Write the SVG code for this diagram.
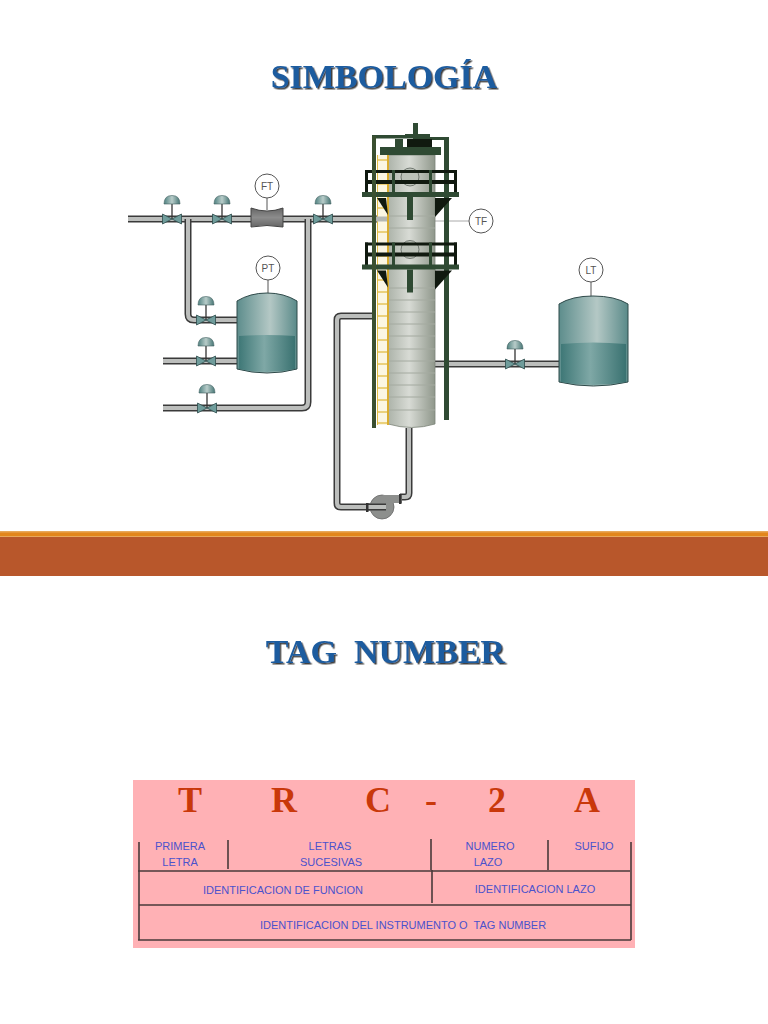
<svg xmlns="http://www.w3.org/2000/svg" xmlns:xlink="http://www.w3.org/1999/xlink" width="768" height="1024" viewBox="0 0 768 1024">
<style>
.title{font-family:"Liberation Serif","Times New Roman",serif;font-weight:bold;font-size:34px;fill:#1f5c9f;text-anchor:middle;filter:url(#sh);white-space:pre}
.big{font-family:"Liberation Serif",serif;font-weight:bold;font-size:36px;fill:#c9380a;text-anchor:middle}
.lab{font-family:"Liberation Sans",Arial,sans-serif;font-size:11px;fill:#4b52cc;text-anchor:middle;white-space:pre}
.ins{font-family:"Liberation Sans",Arial,sans-serif;font-size:10px;fill:#555;text-anchor:middle}
.po{fill:none;stroke:#3a3a3a;stroke-width:7;stroke-linejoin:round}
.pi{fill:none;stroke:#bcbebc;stroke-width:4;stroke-linejoin:round}
.tl{fill:none;stroke:#4a3a3a;stroke-width:1.6}
.fr{fill:#2f4a33}
.bk{fill:#10190f}
.rg{stroke:#e2bd45;stroke-width:1.3}
.bd{stroke:#a4aaa0;stroke-width:1}
.circ{fill:#fff;stroke:#555;stroke-width:1}
.ln{stroke:#555;stroke-width:1}
</style>
<defs>
<filter id="sh" x="-5%" y="-15%" width="110%" height="130%"><feDropShadow dx="1.5" dy="1.5" stdDeviation="0.4" flood-color="#222" flood-opacity="0.85"/></filter>
<linearGradient id="tank"><stop offset="0" stop-color="#5d8d8c"/><stop offset=".55" stop-color="#b4c8c5"/><stop offset="1" stop-color="#5a8a89"/></linearGradient>
<linearGradient id="liq"><stop offset="0" stop-color="#3f7877"/><stop offset=".45" stop-color="#7fa8a6"/><stop offset="1" stop-color="#3a7271"/></linearGradient>
<linearGradient id="col"><stop offset="0" stop-color="#acb3a9"/><stop offset=".45" stop-color="#d8dbd5"/><stop offset="1" stop-color="#8f978b"/></linearGradient>
<linearGradient id="dome" x1="0" x2="1"><stop offset="0" stop-color="#4f8180"/><stop offset=".5" stop-color="#b8ccc9"/><stop offset="1" stop-color="#457574"/></linearGradient>
<linearGradient id="ven" x1="0" y1="0" x2="0" y2="1"><stop offset="0" stop-color="#666"/><stop offset=".5" stop-color="#8c8c8c"/><stop offset="1" stop-color="#666"/></linearGradient>
<g id="valve">
<line x1="0" y1="0" x2="0" y2="-16" stroke="#333" stroke-width="1.3"/>
<path d="M-8,-15 Q-8,-23.500 0,-23.500 Q8,-23.500 8,-15 Z" fill="url(#dome)" stroke="#3f6060" stroke-width=".6"/>
<path d="M0,0 L-9.500,-5 L-9.500,5 Z M0,0 L9.500,-5 L9.500,5 Z" fill="#6f9c9b" stroke="#2d4c4c" stroke-width=".8"/>
</g>
<g id="plat">
<circle cx="410" cy="177" r="9" fill="#bcc2b9" stroke="#5a625a" stroke-width=".8"/>
<rect class="bk" x="365" y="170" width="92" height="3"/>
<rect class="bk" x="365" y="180" width="92" height="4"/>
<rect class="bk" x="365" y="170" width="3" height="24"/>
<rect class="bk" x="454" y="170" width="3" height="24"/>
<rect class="fr" x="429" y="170" width="3" height="24"/>
<rect class="fr" x="392" y="170" width="3" height="24"/>
<rect class="fr" x="362" y="192" width="97" height="5"/>
<rect class="fr" x="407" y="197" width="6" height="23"/>
<path class="bk" d="M435,198 L452,198 L435,217 Z"/>
<path class="bk" d="M377,198 L386,198 L388,215 Z"/>
</g>
</defs>
<rect width="768" height="1024" fill="#fff"/>

<g id="title-simbologia"><text class="title" x="384" y="88">SIMBOLOGÍA</text></g>
<g id="title-tag"><text class="title" x="385.500" y="663" xml:space="preserve">TAG  NUMBER</text></g>

<g id="band">
<rect x="0" y="531" width="768" height="6" fill="#e8a85a"/>
<rect x="0" y="532.500" width="768" height="3.500" fill="#e2861c"/>
<rect x="0" y="537" width="768" height="39" fill="#b8572b"/>
</g>

<g id="connectors">
<path class="po" d="M128,219 H388"/><path class="pi" d="M128,219 H388"/>
<path class="po" d="M188,219 V314 Q188,320 194,320 H238"/><path class="pi" d="M188,219 V314 Q188,320 194,320 H238"/>
<path class="po" d="M163,361 H238"/><path class="pi" d="M163,361 H238"/>
<path class="po" d="M163,408 H302 Q308,408 308,402 V219"/><path class="pi" d="M163,408 H302 Q308,408 308,402 V219"/>
<path class="po" d="M435,364 H560"/><path class="pi" d="M435,364 H560"/>
<path class="po" d="M372,316 H341 Q337,316 337,320 V503 Q337,507 341,507 H370"/><path class="pi" d="M372,316 H341 Q337,316 337,320 V503 Q337,507 341,507 H370"/>
<path class="po" d="M409,428 V493 Q409,497 405,497 H400"/><path class="pi" d="M409,428 V493 Q409,497 405,497 H400"/>
<line class="ln" x1="267" y1="198" x2="267" y2="210"/>
<line class="ln" x1="268" y1="280" x2="268" y2="294"/>
<line class="ln" x1="591" y1="282" x2="591" y2="297"/>
<line x1="435" y1="221" x2="469" y2="221" stroke="#aaa" stroke-width="1"/>
</g>

<g id="valve-1"><use xlink:href="#valve" href="#valve" x="172" y="219"/></g>
<g id="valve-2"><use xlink:href="#valve" href="#valve" x="222" y="219"/></g>
<g id="valve-3"><use xlink:href="#valve" href="#valve" x="323" y="219"/></g>
<g id="valve-4"><use xlink:href="#valve" href="#valve" x="206" y="320"/></g>
<g id="valve-5"><use xlink:href="#valve" href="#valve" x="206" y="361"/></g>
<g id="valve-6"><use xlink:href="#valve" href="#valve" x="207" y="408"/></g>
<g id="valve-7"><use xlink:href="#valve" href="#valve" x="515" y="364"/></g>

<g id="venturi">
<path d="M251,208 Q267,214 283,208 V227 Q267,224 251,227 Z" fill="url(#ven)" stroke="#444" stroke-width="1"/>
</g>
<g id="ft"><circle class="circ" cx="267" cy="186" r="12"/><text class="ins" x="267" y="190">FT</text></g>
<g id="pt"><circle class="circ" cx="268" cy="268" r="12"/><text class="ins" x="268" y="272">PT</text></g>
<g id="tf"><circle class="circ" cx="481" cy="221" r="12"/><text class="ins" x="481" y="225">TF</text></g>
<g id="lt"><circle class="circ" cx="591" cy="270" r="12"/><text class="ins" x="591" y="274">LT</text></g>

<g id="tank-1">
<path d="M237,301 Q250,293 267,293 Q284,293 297,301 V369 Q267,377 237,369 Z" fill="url(#tank)" stroke="#2f4a4a" stroke-width="1"/>
<path d="M239,336 Q267,334 295,336 V369 Q267,375 239,369 Z" fill="url(#liq)"/>
</g>
<g id="tank-2">
<path d="M559,304 Q572,296 593,296 Q615,296 628,304 V382 Q593,390 559,382 Z" fill="url(#tank)" stroke="#2f4a4a" stroke-width="1"/>
<path d="M561,344 Q593,341 626,344 V382 Q593,388 561,382 Z" fill="url(#liq)"/>
</g>

<g id="pump">
<circle cx="382" cy="507" r="12" fill="#8d8f8d" stroke="#666" stroke-width=".8"/>
<path d="M382,495 H402 V503 H392 Z" fill="#8d8f8d"/>
<path class="po" d="M367,507 H386"/><path class="pi" d="M367,507 H386"/>
<rect x="366" y="503" width="2.500" height="9" fill="#333"/>
<rect x="399" y="494" width="2.500" height="10" fill="#333"/>
</g>

<g id="column">
<rect x="377" y="155" width="12" height="270" fill="#fbf6e2"/>
<rect x="377" y="155" width="1" height="270" fill="#e2bd45"/>
<rect x="376" y="216.500" width="12" height="5" fill="#b5b8b3"/>
<g>
<line class="rg" x1="377" x2="388" y1="160" y2="160"/><line class="rg" x1="377" x2="388" y1="172" y2="172"/><line class="rg" x1="377" x2="388" y1="184" y2="184"/><line class="rg" x1="377" x2="388" y1="196" y2="196"/><line class="rg" x1="377" x2="388" y1="208" y2="208"/><line class="rg" x1="377" x2="388" y1="232" y2="232"/><line class="rg" x1="377" x2="388" y1="244" y2="244"/><line class="rg" x1="377" x2="388" y1="256" y2="256"/><line class="rg" x1="377" x2="388" y1="268" y2="268"/><line class="rg" x1="377" x2="388" y1="280" y2="280"/><line class="rg" x1="377" x2="388" y1="292" y2="292"/><line class="rg" x1="377" x2="388" y1="304" y2="304"/><line class="rg" x1="377" x2="388" y1="316" y2="316"/><line class="rg" x1="377" x2="388" y1="328" y2="328"/><line class="rg" x1="377" x2="388" y1="340" y2="340"/><line class="rg" x1="377" x2="388" y1="352" y2="352"/><line class="rg" x1="377" x2="388" y1="364" y2="364"/><line class="rg" x1="377" x2="388" y1="376" y2="376"/><line class="rg" x1="377" x2="388" y1="388" y2="388"/><line class="rg" x1="377" x2="388" y1="400" y2="400"/><line class="rg" x1="377" x2="388" y1="412" y2="412"/><line class="rg" x1="377" x2="388" y1="423" y2="423"/>
</g>
<path d="M388,155 H435 V424 Q412,431 388,424 Z" fill="url(#col)" stroke="#7c8479" stroke-width=".8"/>
<rect x="387" y="155" width="2" height="270" fill="#d9ac2e"/>
<g>
<line class="bd" x1="389" x2="435" y1="216" y2="216"/><line class="bd" x1="389" x2="435" y1="228" y2="228"/><line class="bd" x1="389" x2="435" y1="288" y2="288"/><line class="bd" x1="389" x2="435" y1="300" y2="300"/><line class="bd" x1="389" x2="435" y1="312" y2="312"/><line class="bd" x1="389" x2="435" y1="324" y2="324"/><line class="bd" x1="389" x2="435" y1="336" y2="336"/><line class="bd" x1="389" x2="435" y1="349" y2="349"/><line class="bd" x1="389" x2="435" y1="361" y2="361"/><line class="bd" x1="389" x2="435" y1="373" y2="373"/><line class="bd" x1="389" x2="435" y1="385" y2="385"/><line class="bd" x1="389" x2="435" y1="397" y2="397"/><line class="bd" x1="389" x2="435" y1="410" y2="410"/>
</g>
<rect class="fr" x="444" y="140" width="5" height="280"/>
<rect class="fr" x="413" y="123" width="5" height="17"/>
<rect class="fr" x="405" y="134" width="25" height="4"/>
<rect class="fr" x="372" y="135" width="46" height="3.500"/>
<rect class="fr" x="418" y="137" width="31" height="3"/>
<rect class="fr" x="395" y="139" width="8" height="8"/>
<rect class="bk" x="407" y="139" width="25" height="8"/>
<rect class="fr" x="380" y="147" width="61" height="8"/>
<use xlink:href="#plat" href="#plat"/>
<use xlink:href="#plat" href="#plat" y="72.500"/>
<rect x="372" y="136" width="4" height="292" fill="#3a4f30"/>
</g>

<g id="tag-table">
<rect x="133" y="780" width="502" height="168" fill="#ffb1b5"/>
<text class="big" x="190" y="812">T</text>
<text class="big" x="284" y="812">R</text>
<text class="big" x="378" y="812">C</text>
<text class="big" x="431" y="812">-</text>
<text class="big" x="497" y="812">2</text>
<text class="big" x="587" y="812">A</text>
<path class="tl" d="M139,842 V940 M228,840 V869 M431,839 V870 M548,840 V870 M631,842 V940 M432,870 V903 M138,871 H630 M139,905 H631 M138,940 H631"/>
<text class="lab" x="180" y="850">PRIMERA</text>
<text class="lab" x="180" y="866">LETRA</text>
<text class="lab" x="330" y="850">LETRAS</text>
<text class="lab" x="331" y="866">SUCESIVAS</text>
<text class="lab" x="490" y="850">NUMERO</text>
<text class="lab" x="488" y="866">LAZO</text>
<text class="lab" x="594" y="850">SUFIJO</text>
<text class="lab" x="283" y="894">IDENTIFICACION DE FUNCION</text>
<text class="lab" x="535" y="893">IDENTIFICACION LAZO</text>
<text class="lab" x="403" y="929" xml:space="preserve">IDENTIFICACION DEL INSTRUMENTO O  TAG NUMBER</text>
</g>
</svg>
